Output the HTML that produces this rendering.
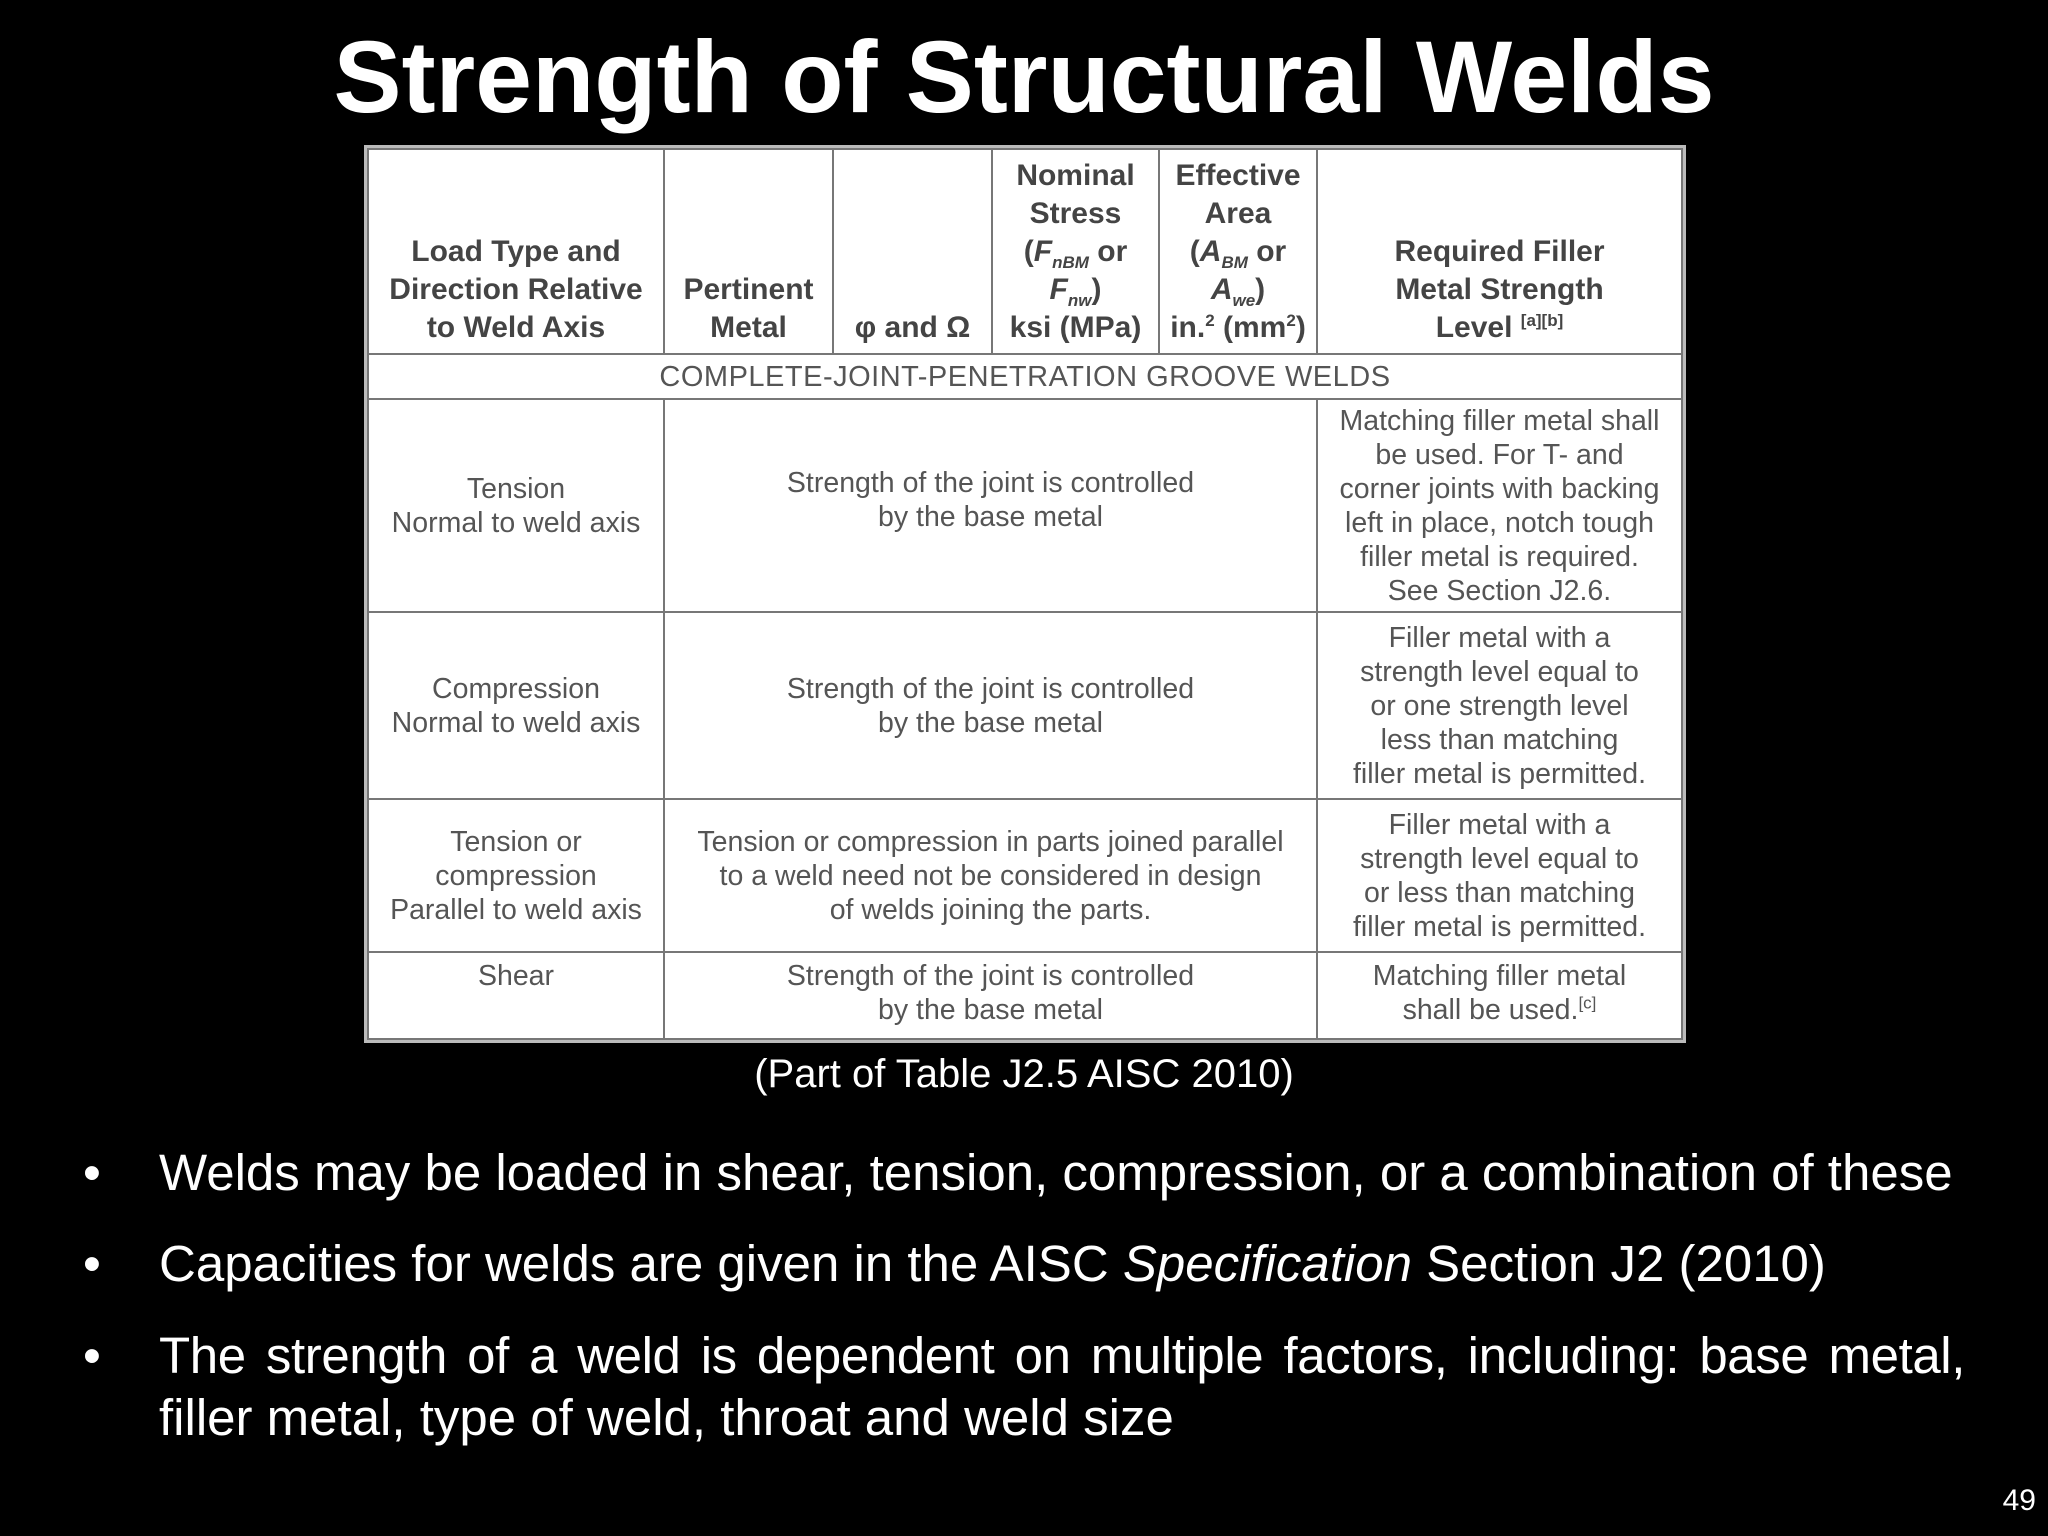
<!DOCTYPE html>
<html><head><meta charset="utf-8"><style>
body{margin:0;background:#000;width:2048px;height:1536px;overflow:hidden;position:relative;font-family:"Liberation Sans",Arial,sans-serif;}
.title{position:absolute;left:0;width:2048px;top:22px;text-align:center;color:#fff;font-weight:bold;font-size:102px;line-height:110px;}
table{position:absolute;left:367px;top:148px;width:1314px;height:890px;border-collapse:collapse;background:#fff;table-layout:fixed;outline:3px solid #bbb;}
td{border:2px solid #777;text-align:center;color:#555;font-size:28.5px;line-height:34px;padding:0 2px;}
tr.h td{font-weight:bold;color:#444;font-size:30px;line-height:38px;vertical-align:bottom;padding-bottom:6px;}
.sec td{font-size:29px;color:#555;letter-spacing:0.5px;}
sup,sub{font-size:17px;line-height:0;}
.cap{position:absolute;top:1052px;left:0;width:2048px;text-align:center;color:#fff;font-size:40px;}
.b{position:absolute;left:159px;width:1806px;color:#fff;font-size:51px;line-height:62px;}
.b:before{content:"•";position:absolute;left:-76px;}
.j{display:block;text-align:justify;text-align-last:justify;letter-spacing:-0.4px;white-space:nowrap;}
.pg{position:absolute;right:12px;top:1484px;color:#fff;font-size:30px;}
</style></head><body>
<div class="title">Strength of Structural Welds</div>
<table>
<colgroup><col style="width:296px"><col style="width:169px"><col style="width:159px"><col style="width:167px"><col style="width:158px"><col style="width:365px"></colgroup>
<tr class="h" style="height:205px"><td>Load Type and<br>Direction Relative<br>to Weld Axis</td><td>Pertinent<br>Metal</td><td>&phi; and &Omega;</td><td>Nominal<br>Stress<br>(<i>F<sub>nBM</sub></i> or<br><i>F<sub>nw</sub></i>)<br>ksi (MPa)</td><td>Effective<br>Area<br>(<i>A<sub>BM</sub></i> or<br><i>A<sub>we</sub></i>)<br>in.<sup>2</sup> (mm<sup>2</sup>)</td><td>Required Filler<br>Metal Strength<br>Level <sup>[a][b]</sup></td></tr>
<tr class="sec" style="height:45px"><td colspan="6">COMPLETE-JOINT-PENETRATION GROOVE WELDS</td></tr>
<tr style="height:213px"><td>Tension<br>Normal to weld axis</td><td colspan="4" style="vertical-align:top;padding-top:66px">Strength of the joint is controlled<br>by the base metal</td><td>Matching filler metal shall<br>be used. For T- and<br>corner joints with backing<br>left in place, notch tough<br>filler metal is required.<br>See Section J2.6.</td></tr>
<tr style="height:187px"><td>Compression<br>Normal to weld axis</td><td colspan="4">Strength of the joint is controlled<br>by the base metal</td><td>Filler metal with a<br>strength level equal to<br>or one strength level<br>less than matching<br>filler metal is permitted.</td></tr>
<tr style="height:153px"><td>Tension or<br>compression<br>Parallel to weld axis</td><td colspan="4">Tension or compression in parts joined parallel<br>to a weld need not be considered in design<br>of welds joining the parts.</td><td>Filler metal with a<br>strength level equal to<br>or less than matching<br>filler metal is permitted.</td></tr>
<tr style="height:87px"><td style="vertical-align:top;padding-top:6px">Shear</td><td colspan="4" style="vertical-align:top;padding-top:6px">Strength of the joint is controlled<br>by the base metal</td><td style="vertical-align:top;padding-top:6px">Matching filler metal<br>shall be used.<sup>[c]</sup></td></tr>
</table>
<div class="cap">(Part of Table J2.5 AISC 2010)</div>
<div class="b" style="top:1142px">Welds may be loaded in shear, tension, compression, or a combination of these</div>
<div class="b" style="top:1233px">Capacities for welds are given in the AISC <i>Specification</i> Section J2 (2010)</div>
<div class="b" style="top:1325px"><span class="j">The strength of a weld is dependent on multiple factors, including: base metal,</span>filler metal, type of weld, throat and weld size</div>
<div class="pg">49</div>
</body></html>
